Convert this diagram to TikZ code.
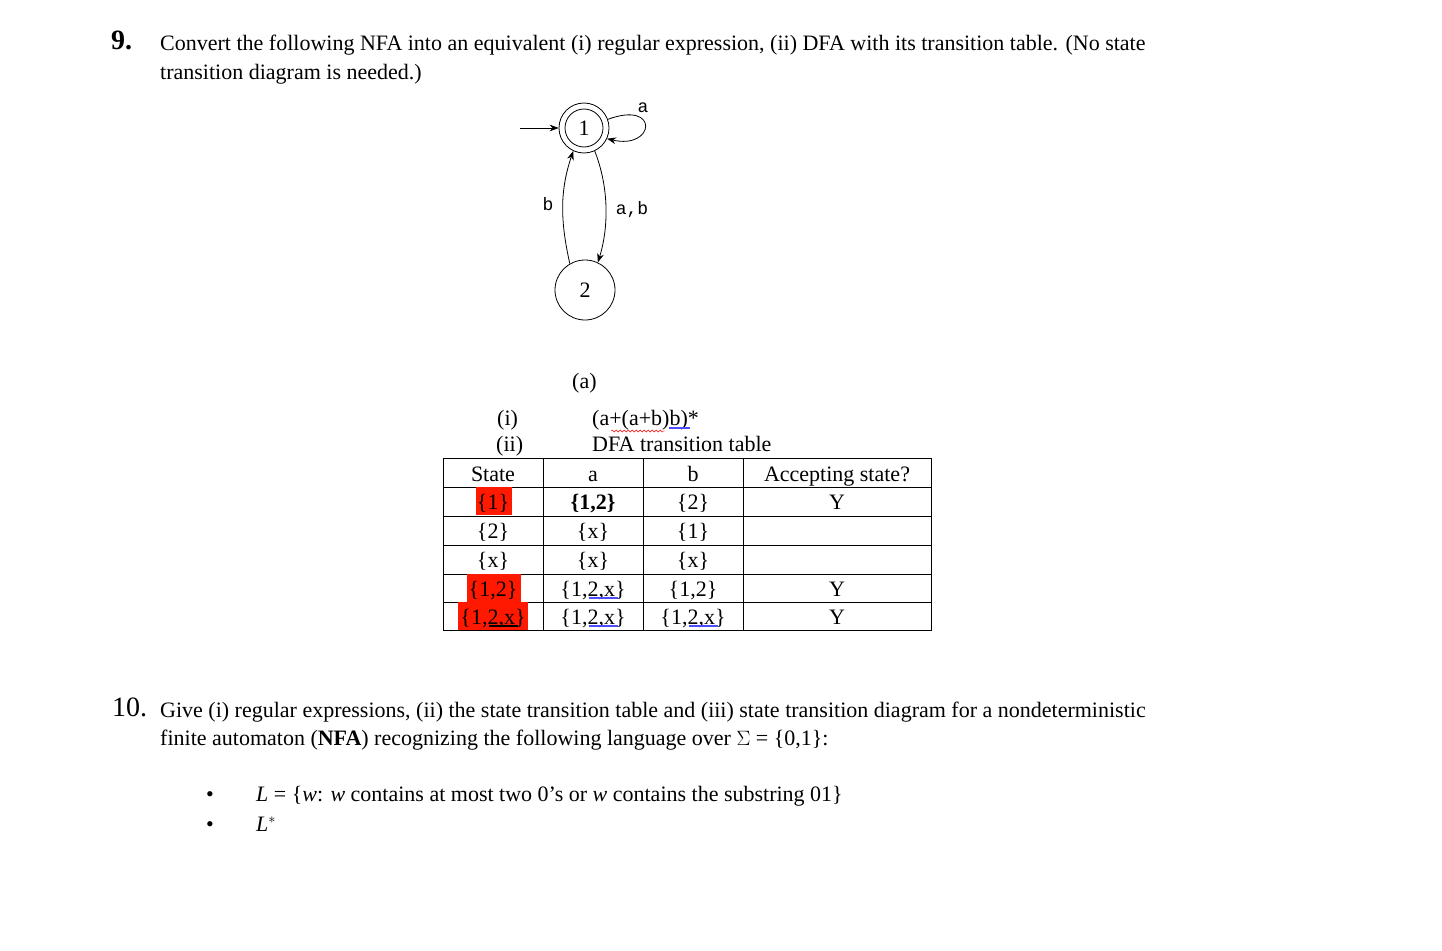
\documentclass[tikz,border=0pt]{standalone}
\usepackage{fontspec}
\setmainfont{Liberation Serif}
\newfontfamily\ttf{Liberation Mono}
\usetikzlibrary{arrows.meta,decorations.pathmorphing}
\begin{document}
\begin{tikzpicture}[x=1pt,y=-1pt,
  txt/.style={anchor=base west,inner sep=0,font=\fontsize{22}{26}\selectfont},
  cell/.style={anchor=base,inner sep=0,font=\fontsize{22}{26}\selectfont},
  hl/.style={fill=red!80!orange,inner sep=1pt},
  st/.style={circle,draw,thick,inner sep=0,font=\fontsize{22}{26}\selectfont},
  lab/.style={inner sep=0,font=\ttf\fontsize{18}{20}\selectfont},
  arr/.style={-{Stealth[length=9pt]},thick},
  bl/.style={draw=blue!70,line width=1.5pt},
  sq/.style={draw=red,decorate,decoration={snake,amplitude=1pt,segment length=4pt}}]
\useasboundingbox (0,0) rectangle (1442,950);
% Question 9
\node[txt,font=\bfseries\fontsize{28}{30}\selectfont] (n9) at (111,50) {9.};
\node[txt] (q9a) at (160,51) {Convert the following NFA into an equivalent (i) regular expression, (ii) DFA with its transition table. (No state};
\node[txt] (q9b) at (160,79) {transition diagram is needed.)};
% NFA
\node[st,minimum size=50pt] (s1) at (584,128) {};
\node[circle,draw,thick,minimum size=38pt,inner sep=0,font=\fontsize{22}{26}\selectfont] (s1i) at (584,128) {1};
\node[st,minimum size=60pt] (s2) at (585,290) {2};
\coordinate (in) at (520,128);
\draw[arr] (in) -- (s1.west);
\draw[arr] (s1.20) .. controls (660,100) and (655,150) .. (s1.-25);
\node[lab] (la) at (643,108) {a};
\draw[arr] (s2.120) .. controls (560,220) and (560,190) .. (s1.-115);
\node[lab] (lb) at (548,204) {b};
\draw[arr] (s1.-65) .. controls (610,190) and (608,230) .. (s2.65);
\node[lab] (lab2) at (632,210) {a,b};
\node[txt] (cap) at (572,388) {(a)};
% answers
\node[txt] (i) at (497,425) {(i)};
\node[txt] (ii) at (496,451) {(ii)};
\node[txt] (re) at (592,425) {(a+(a+b)b)*};
\node[txt] (dt) at (592,451) {DFA transition table};
\draw[sq] (611,431) -- (665,431);
\draw[bl] (669,428) -- (690,428);
% table
\draw[thick] (443,458) rectangle (931,630);
\foreach \y in {487,516,545,574,602} \draw[thick] (443,\y) -- (931,\y);
\foreach \x in {543,643,743} \draw[thick] (\x,458) -- (\x,630);
\foreach \t/\y in {0/480,1/509,2/538,3/567,4/596,5/624} {}
\node[cell] (h1) at (493,481) {State};
\node[cell] (h2) at (593,481) {a};
\node[cell] (h3) at (693,481) {b};
\node[cell] (h4) at (837,481) {Accepting state?};
\fill[red!80!orange] (476,487) rectangle (512,515);
\fill[red!80!orange] (467,574) rectangle (521,602);
\fill[red!80!orange] (458,602) rectangle (528,630);
\node[cell] (r1a) at (493,509) {\{1\}};
\node[cell,font=\bfseries\fontsize{22}{26}\selectfont] (r1b) at (593,509) {\{1,2\}};
\node[cell] (r1c) at (693,509) {\{2\}};
\node[cell] (r1d) at (837,509) {Y};
\node[cell] (r2a) at (493,538) {\{2\}};
\node[cell] (r2b) at (593,538) {\{x\}};
\node[cell] (r2c) at (693,538) {\{1\}};
\node[cell] (r3a) at (493,567) {\{x\}};
\node[cell] (r3b) at (593,567) {\{x\}};
\node[cell] (r3c) at (693,567) {\{x\}};
\node[cell] (r4a) at (493,596) {\{1,2\}};
\node[cell] (r4b) at (593,596) {\{1,2,x\}};
\node[cell] (r4c) at (693,596) {\{1,2\}};
\node[cell] (r4d) at (837,596) {Y};
\node[cell] (r5a) at (493,624) {\{1,2,x\}};
\node[cell] (r5b) at (593,624) {\{1,2,x\}};
\node[cell] (r5c) at (693,624) {\{1,2,x\}};
\node[cell] (r5d) at (837,624) {Y};
\draw[bl] (589,598) -- (618,598);
\draw[bl] (589,626) -- (618,626);
\draw[bl] (689,626) -- (718,626);
\draw[line width=1.5pt] (489,626) -- (518,626);
% Question 10
\node[txt,font=\fontsize{28}{30}\selectfont] (n10) at (112,716) {10.};
\node[txt] (q10a) at (160,717) {Give (i) regular expressions, (ii) the state transition table and (iii) state transition diagram for a nondeterministic};
\node[txt] (q10b) at (160,745) {finite automaton (\textbf{NFA}) recognizing the following language over $\Sigma$ = \{0,1\}:};
\node[txt] (b1) at (206,801) {\textbullet};
\node[txt] (b2) at (206,831) {\textbullet};
\node[txt] (l1) at (256,801) {\textit{L} = \{\textit{w}: \textit{w} contains at most two 0's or \textit{w} contains the substring 01\}};
\node[txt] (l2) at (256,831) {\textit{L}$^{*}$};
\end{tikzpicture}
\end{document}
